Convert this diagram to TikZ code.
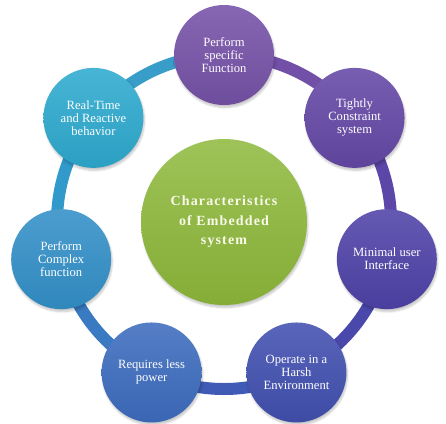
\documentclass[tikz,border=0pt]{standalone}
\usepackage{fontspec}
\setmainfont{Liberation Serif}
\newfontfamily\ctrfont[LetterSpace=8]{Liberation Serif}
\usetikzlibrary{shadows.blur}
\pgfdeclarelayer{bg}
\pgfsetlayers{bg,main}
\definecolor{cA}{HTML}{7652A8}
\definecolor{cB}{HTML}{6548A6}
\definecolor{cC}{HTML}{4F42A8}
\definecolor{cD}{HTML}{4250B0}
\definecolor{cE}{HTML}{3D6CBE}
\definecolor{cF}{HTML}{3390C8}
\definecolor{cG}{HTML}{2EAACF}
\definecolor{cGreen}{HTML}{8DB83A}
\definecolor{cream}{HTML}{FAFAEC}
\tikzset{
  bub/.style={circle, minimum size=100pt, inner sep=0pt, align=center,
    text=white, font=\fontsize{12.6}{13}\selectfont,
    top color=#1!88!white, bottom color=#1!94!black,
    blur shadow={shadow blur steps=6, shadow xshift=1pt, shadow yshift=-2.5pt, shadow opacity=22}},
  ctr/.style={circle, minimum size=166pt, inner sep=0pt, align=center,
    text=cream, font=\ctrfont\bfseries\fontsize{14}{19.5}\selectfont,
    top color=cGreen!85!white, bottom color=cGreen!94!black,
    blur shadow={shadow blur steps=6, shadow xshift=1pt, shadow yshift=-2.5pt, shadow opacity=22}},
  link/.style={line width=12pt}
}
\begin{document}
\begin{tikzpicture}[x=1pt,y=1pt]
\useasboundingbox (0,0) rectangle (446,-423);
\def\cx{224}\def\cy{-222}\def\R{167}
\node[bub=cA] (n1) at ({\cx+\R*cos(90)},{\cy+\R*sin(90)}) {Perform\\specific\\Function};
\node[bub=cB] (n2) at ({\cx+\R*cos(38.571)},{\cy+\R*sin(38.571)}) {Tightly\\Constraint\\system};
\node[bub=cC] (n3) at ({\cx+\R*cos(-12.857)},{\cy+\R*sin(-12.857)}) {Minimal user\\Interface};
\node[bub=cD] (n4) at ({\cx+\R*cos(-64.286)},{\cy+\R*sin(-64.286)}) {Operate in a\\Harsh\\Environment};
\node[bub=cE] (n5) at ({\cx+\R*cos(-115.714)},{\cy+\R*sin(-115.714)}) {Requires less\\power};
\node[bub=cF] (n6) at ({\cx+\R*cos(-167.143)},{\cy+\R*sin(-167.143)}) {Perform\\Complex\\function};
\node[bub=cG] (n7) at ({\cx+\R*cos(141.429)},{\cy+\R*sin(141.429)}) {Real-Time\\and Reactive\\behavior};
\node[ctr] (c) at (\cx,\cy) {Characteristics\\of Embedded\\system};
\begin{pgfonlayer}{bg}
\draw[link, draw=cA!75!cB] (n1.center) to[bend left=25.71, looseness=0.9] (n2.center);
\draw[link, draw=cB!60!cC] (n2.center) to[bend left=25.71, looseness=0.9] (n3.center);
\draw[link, draw=cC!60!cD] (n3.center) to[bend left=25.71, looseness=0.9] (n4.center);
\draw[link, draw=cD!60!cE] (n4.center) to[bend left=25.71, looseness=0.9] (n5.center);
\draw[link, draw=cE!60!cF] (n5.center) to[bend left=25.71, looseness=0.9] (n6.center);
\draw[link, draw=cF!60!cG] (n6.center) to[bend left=25.71, looseness=0.9] (n7.center);
\draw[link, draw=cG!85!cA] (n7.center) to[bend left=25.71, looseness=0.9] (n1.center);
\end{pgfonlayer}
\end{tikzpicture}
\end{document}
